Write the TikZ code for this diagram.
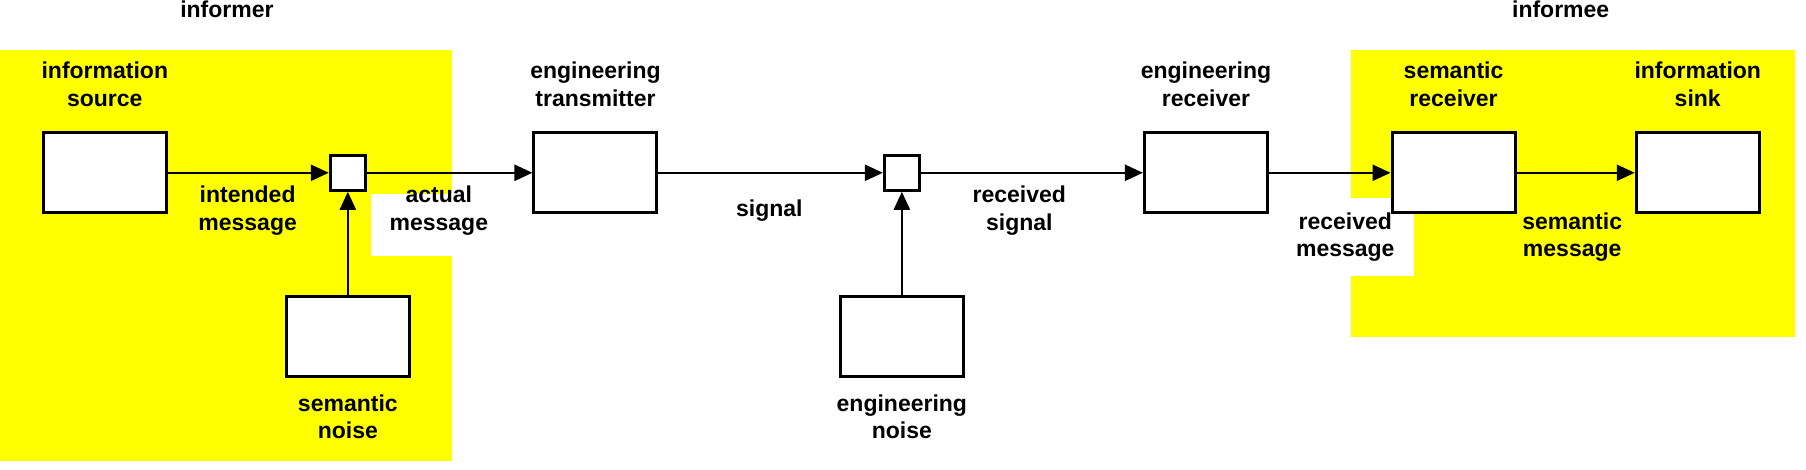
\documentclass[tikz,border=0pt]{standalone}
\usepackage{fontspec}
\setmainfont{Liberation Sans}
\usetikzlibrary{arrows.meta,positioning}
\definecolor{zone}{RGB}{255,255,0}
\tikzset{
  blk/.style = {draw, line width=1.5pt, fill=white, minimum width=61.5pt, minimum height=40pt, inner sep=0pt},
  jn/.style = {draw, line width=1.5pt, fill=white, minimum width=17.5pt, minimum height=17.5pt, inner sep=0pt},
  lbl/.style = {font=\bfseries\fontsize{11.5}{13.8}\selectfont, align=center, inner sep=1pt},
  flow/.style = {line width=1.2pt, -{Triangle[length=9pt,width=8pt]}}
}
\begin{document}
\begin{tikzpicture}[x=0.5759pt, y=-0.5759pt]
\useasboundingbox (0,0) rectangle (1568,408);
% yellow zones
\fill[zone] (0,43) -- (392,43) -- (392,400) -- (0,400) -- cycle;
\fill[white] (322,168) rectangle (392,222);
\fill[zone] (1173,43) -- (1558,43) -- (1558,293) -- (1173,293) -- cycle;
\fill[white] (1173,172) rectangle (1228,240);

\node[lbl] (informer) at (197,8) {informer};
\node[lbl] (informee) at (1355,8) {informee};

% blocks
\node[blk] (src) at (91,150) {};
\node[blk] (tx) at (517,150) {};
\node[blk] (rx) at (1047,150) {};
\node[blk] (srx) at (1262,150) {};
\node[blk] (sink) at (1474,150) {};
\node[blk] (snoise) at (302,292) {};
\node[blk] (enoise) at (783,292) {};
\node[jn] (j1) at (302,150) {};
\node[jn] (j2) at (783,150) {};

% block labels
\node[lbl] at (91,73) {information\\source};
\node[lbl] at (517,73) {engineering\\transmitter};
\node[lbl] at (1047,73) {engineering\\receiver};
\node[lbl] at (1262,73) {semantic\\receiver};
\node[lbl] at (1474,73) {information\\sink};
\node[lbl] at (302,362) {semantic\\noise};
\node[lbl] at (783,362) {engineering\\noise};

% connectors
\draw[flow] (src) -- (j1);
\draw[flow] (j1) -- (tx);
\draw[flow] (tx) -- (j2);
\draw[flow] (j2) -- (rx);
\draw[flow] (rx) -- (srx);
\draw[flow] (srx) -- (sink);
\draw[flow] (snoise) -- (j1);
\draw[flow] (enoise) -- (j2);

% connector labels
\node[lbl] at (215,183) {intended\\message};
\node[lbl] at (381,183) {actual\\message};
\node[lbl] at (668,183) {signal};
\node[lbl] at (885,183) {received\\signal};
\node[lbl] at (1168,206) {received\\message};
\node[lbl] at (1365,206) {semantic\\message};
\end{tikzpicture}
\end{document}
